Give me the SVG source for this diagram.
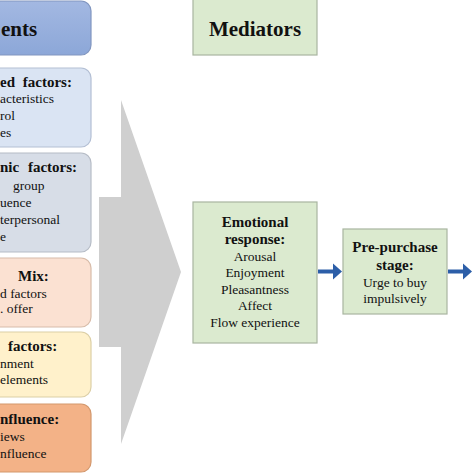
<svg xmlns="http://www.w3.org/2000/svg" width="474" height="474" viewBox="0 0 474 474">
<style>
.t{font-family:"Liberation Serif","Times New Roman",serif;fill:#111;}
.b{font-weight:bold;font-size:15px;}
.r{font-size:13.5px;}
.h{font-weight:bold;font-size:21px;}
.m{text-anchor:middle;}
.box{stroke-width:1.2;}
.g{fill:#dbeacf;stroke:#a8b5a0;stroke-width:1.2;}
</style>
<defs>
<linearGradient id="gb" x1="0" y1="0" x2="0" y2="1">
<stop offset="0" stop-color="#a3b8e2"/><stop offset="1" stop-color="#8ca7d8"/>
</linearGradient>
</defs>
<rect width="474" height="474" fill="#fff"/>

<g id="antecedents">
<rect class="box" x="-60" y="1" width="151" height="54" rx="10" fill="url(#gb)" stroke="#8196c0"/>
<text class="t h" x="1" y="36">ents</text>
</g>

<g id="node-related">
<rect class="box" x="-60" y="68" width="151" height="79" rx="10" fill="#dae4f3" stroke="#b3bfd4"/>
<text class="t b" x="0" y="87" word-spacing="4">ed factors:</text>
<text class="t r" x="0" y="103">acteristics</text>
<text class="t r" x="0" y="120">rol</text>
<text class="t r" x="0" y="137">es</text>
</g>

<g id="node-social">
<rect class="box" x="-60" y="153" width="151" height="99" rx="10" fill="#d7dde7" stroke="#b6bcc6"/>
<text class="t b" x="0" y="172" word-spacing="5">nic factors:</text>
<text class="t r" x="13" y="190">group</text>
<text class="t r" x="0" y="207">uence</text>
<text class="t r" x="0" y="224">terpersonal</text>
<text class="t r" x="0" y="241">e</text>
</g>

<g id="node-mix">
<rect class="box" x="-60" y="258" width="151" height="69" rx="10" fill="#fbe1d2" stroke="#d8bca9"/>
<text class="t b" x="18" y="281">Mix:</text>
<text class="t r" x="0" y="298">d factors</text>
<text class="t r" x="0" y="313">. offer</text>
</g>

<g id="node-env">
<rect class="box" x="-60" y="332" width="151" height="65" rx="10" fill="#fff1cb" stroke="#dccfa6"/>
<text class="t b" x="8" y="351">factors:</text>
<text class="t r" x="0" y="368">nment</text>
<text class="t r" x="0" y="384">elements</text>
</g>

<g id="node-influence">
<rect class="box" x="-60" y="404" width="151" height="68" rx="10" fill="#f3b287" stroke="#d3986d"/>
<text class="t b" x="0" y="424">nfluence:</text>
<text class="t r" x="0" y="441">iews</text>
<text class="t r" x="0" y="458">nfluence</text>
</g>

<g id="big-arrow">
<polygon points="99,197 121,197 121,100 181,272 121,444 121,347 99,347" fill="#cfcfcf"/>
</g>

<g id="mediators">
<rect class="g" x="193" y="-1" width="124" height="56"/>
<text class="t h m" x="255" y="36">Mediators</text>
</g>

<g id="emotional">
<rect class="g" x="193" y="202" width="124" height="141"/>
<text class="t b m" x="255" y="227">Emotional</text>
<text class="t b m" x="255" y="244">response:</text>
<text class="t r m" x="255" y="261">Arousal</text>
<text class="t r m" x="255" y="277">Enjoyment</text>
<text class="t r m" x="255" y="294">Pleasantness</text>
<text class="t r m" x="255" y="310">Affect</text>
<text class="t r m" x="255" y="327">Flow experience</text>
</g>

<g id="prepurchase">
<rect class="g" x="343" y="229" width="104" height="85"/>
<text class="t b m" x="395" y="252">Pre-purchase</text>
<text class="t b m" x="395" y="270">stage:</text>
<text class="t r m" x="395" y="287">Urge to buy</text>
<text class="t r m" x="395" y="303">impulsively</text>
</g>

<g id="connectors" fill="#2c5ea8">
<polygon points="318,269.5 333,269.5 333,263.5 342,271.5 333,279.5 333,273.5 318,273.5"/>
<polygon points="448,269.5 463,269.5 463,263.5 472,271.5 463,279.5 463,273.5 448,273.5"/>
</g>
</svg>
